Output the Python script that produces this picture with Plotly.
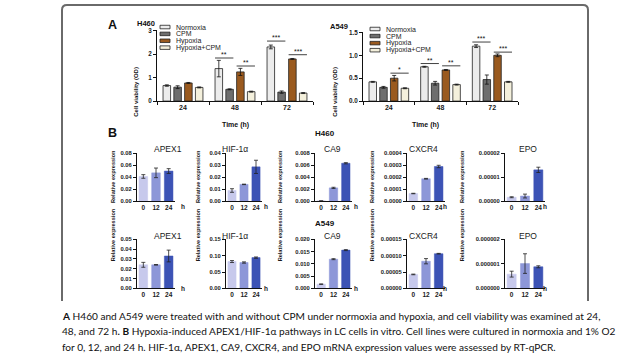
import plotly.graph_objects as go

W, H = 638, 359


def fx(x):
    return x / W


def fy(y):
    return 1 - y / H


# ---------------- Panel A data ----------------
time_points = ["24", "48", "72"]
conditions = ["Normoxia", "CPM", "Hypoxia", "Hypoxia+CPM"]

h460_normoxia = [0.66, 1.38, 2.30]
h460_normoxia_err = [0.03, 0.35, 0.08]
h460_cpm = [0.59, 0.50, 0.38]
h460_cpm_err = [0.06, 0.02, 0.05]
h460_hypoxia = [0.77, 1.24, 1.79]
h460_hypoxia_err = [0.02, 0.15, 0.02]
h460_hypoxia_cpm = [0.58, 0.40, 0.34]
h460_hypoxia_cpm_err = [0.02, 0.02, 0.02]

a549_normoxia = [0.42, 0.75, 1.20]
a549_normoxia_err = [0.01, 0.01, 0.03]
a549_cpm = [0.30, 0.39, 0.47]
a549_cpm_err = [0.02, 0.04, 0.10]
a549_hypoxia = [0.50, 0.68, 1.00]
a549_hypoxia_err = [0.06, 0.01, 0.03]
a549_hypoxia_cpm = [0.28, 0.36, 0.42]
a549_hypoxia_cpm_err = [0.01, 0.01, 0.01]

# significance brackets: time index, pair (0 = Normoxia/CPM, 1 = Hypoxia/Hypoxia+CPM), level, label
h460_sig_time = [1, 1, 2, 2]
h460_sig_pair = [0, 1, 0, 1]
h460_sig_level = [1.83, 1.49, 2.55, 1.97]
h460_sig_label = ["**", "**", "***", "***"]
a549_sig_time = [0, 1, 1, 2, 2]
a549_sig_pair = [1, 0, 1, 0, 1]
a549_sig_level = [0.61, 0.82, 0.77, 1.29, 1.07]
a549_sig_label = ["*", "**", "**", "***", "***"]

# ---------------- Panel B data ----------------
hours = ["0", "12", "24"]
genes = ["APEX1", "HIF-1α", "CA9", "CXCR4", "EPO"]

h460_apex1 = [0.041, 0.047, 0.050]
h460_apex1_err = [0.003, 0.008, 0.004]
h460_hif1a = [0.0088, 0.0139, 0.0285]
h460_hif1a_err = [0.0015, 0.0002, 0.0055]
h460_ca9 = [0.00003, 0.0022, 0.0063]
h460_ca9_err = [0.0, 0.0001, 0.0001]
h460_cxcr4 = [0.000063, 0.000186, 0.000288]
h460_cxcr4_err = [0.000002, 0.000003, 0.00001]
h460_epo = [0.0000016, 0.0000021, 0.000013]
h460_epo_err = [0.0000002, 0.0000008, 0.0000011]

a549_apex1 = [0.024, 0.024, 0.033]
a549_apex1_err = [0.0025, 0.0003, 0.006]
a549_hif1a = [0.082, 0.079, 0.094]
a549_hif1a_err = [0.003, 0.002, 0.002]
a549_ca9 = [0.0017, 0.0119, 0.0156]
a549_ca9_err = [0.0001, 0.0002, 0.0002]
a549_cxcr4 = [0.0000426, 0.000083, 0.000106]
a549_cxcr4_err = [0.000001, 0.000008, 0.000001]
a549_epo = [0.00000058, 0.00000101, 0.00000088]
a549_epo_err = [0.00000012, 0.0000004, 0.00000004]

h460_stars = [["", "", ""], ["", "", "**"], ["", "***", "***"], ["", "***", "***"], ["", "", "***"]]
a549_stars = [["", "", ""], ["", "", "**"], ["", "***", "***"], ["", "***", "***"], ["", "", ""]]

# y-axis tick settings (range max, dtick, format)
h460_ymax = [0.08, 0.04, 0.008, 0.0004, 0.00002]
h460_dtick = [0.02, 0.01, 0.002, 0.0001, 0.00001]
h460_fmt = [".2f", ".2f", ".3f", ".4f", ".5f"]
a549_ymax = [0.05, 0.15, 0.020, 0.00015, 0.000002]
a549_dtick = [0.01, 0.05, 0.005, 0.00005, 0.000001]
a549_fmt = [".2f", ".2f", ".3f", ".5f", ".6f"]

# ---------------- styling ----------------
cond_colors = ["#ececec", "#6e6e6e", "#9a5a1f", "#f4f0dc"]
hour_colors = ["#c7c9ec", "#8d97d8", "#3c53b5"]
FONT = "Liberation Sans"
BARGAP = 0.17
BARGROUPGAP = 0.3

fig = go.Figure()
annotations = []
shapes = []
layout = {}


def axis_common():
    return dict(showgrid=False, zeroline=False, showline=True, linecolor="#111",
                linewidth=1, fixedrange=True, ticklabeloverflow="allow",
                tickcolor="#111")


def tf(size):
    return dict(family=FONT, size=size, color="#1a1a1a", weight="bold")


# ---------- Panel A ----------
panelA = [
    ("x", "y", [157, 313], [27, 99], 3, 1, "d",
     [h460_normoxia, h460_cpm, h460_hypoxia, h460_hypoxia_cpm],
     [h460_normoxia_err, h460_cpm_err, h460_hypoxia_err, h460_hypoxia_cpm_err],
     (h460_sig_time, h460_sig_pair, h460_sig_level, h460_sig_label)),
    ("x2", "y2", [363, 518], [29, 99], 1.5, 0.5, ".1f",
     [a549_normoxia, a549_cpm, a549_hypoxia, a549_hypoxia_cpm],
     [a549_normoxia_err, a549_cpm_err, a549_hypoxia_err, a549_hypoxia_cpm_err],
     (a549_sig_time, a549_sig_pair, a549_sig_level, a549_sig_label)),
]

for xa, ya, xd, yd, ymax, dt, fmt, series, errs, sig in panelA:
    for k in range(4):
        fig.add_trace(go.Bar(
            x=time_points, y=series[k], name=conditions[k],
            marker=dict(color=cond_colors[k], line=dict(color="#222", width=0.8)),
            error_y=dict(type="data", array=errs[k], color="#111", thickness=0.8, width=2),
            xaxis=xa, yaxis=ya, showlegend=False))
    xname = "xaxis" + xa[1:]
    yname = "yaxis" + ya[1:]
    layout[xname] = dict(axis_common(), domain=[fx(xd[0]), fx(xd[1])], anchor=ya,
                         ticks="outside", tickson="boundaries", ticklen=3,
                         tickfont=tf(7), range=[-0.5, 2.5], type="category")
    layout[yname] = dict(axis_common(), domain=[fy(yd[1]), fy(yd[0])], anchor=xa,
                         range=[0, ymax], dtick=dt, tickformat=fmt, ticks="outside",
                         ticklen=3, tickfont=tf(6.3))
    slot = (1 - BARGAP) / 4
    half = slot * (1 - BARGROUPGAP) / 2
    for t, p, lev, lab in zip(*sig):
        left = t + (-1.5 + 2 * p) * slot - half
        right = t + (-0.5 + 2 * p) * slot + half
        shapes.append(dict(type="line", xref=xa, yref=ya, x0=left, x1=right,
                           y0=lev, y1=lev, line=dict(color="#111", width=0.8)))
        annotations.append(dict(xref=xa, yref=ya, x=(left + right) / 2, y=lev,
                                text=lab, showarrow=False, yanchor="bottom", yshift=-2,
                                font=dict(family=FONT, size=7, color="#111")))

# manual legends for panel A
for lx, ly0, step in [(160, 23.5, 7.0), (370, 25.5, 7.2)]:
    for k in range(4):
        yy = ly0 + k * step
        shapes.append(dict(type="rect", xref="paper", yref="paper",
                           x0=fx(lx), x1=fx(lx + 10), y0=fy(yy + 1.8), y1=fy(yy - 1.8),
                           fillcolor=cond_colors[k], line=dict(color="#222", width=0.8)))
        annotations.append(dict(xref="paper", yref="paper", x=fx(lx + 15), y=fy(yy),
                                text=conditions[k], showarrow=False, xanchor="left",
                                yanchor="middle", borderpad=0,
                                font=dict(family=FONT, size=7, color="#222")))

# panel A text
for txt, x, y in [("Cell viability (OD)", 131, 62), ("Cell viability (OD)", 335, 62)]:
    annotations.append(dict(xref="paper", yref="paper", x=fx(x), y=fy(y), text=txt,
                            textangle=-90, showarrow=False,
                            font=dict(family=FONT, size=6, color="#111", weight="bold")))
for x in [235, 441]:
    annotations.append(dict(xref="paper", yref="paper", x=fx(x), y=fy(117),
                            text="<b>Time (h)</b>", showarrow=False,
                            font=dict(family=FONT, size=7, color="#111")))

# ---------- Panel B ----------
b_x = [[137, 175], [226, 262], [315, 352], [407, 445], [505, 545]]
b_ylabel_x = [108, 193, 280, 372, 467]
b_title_x = [152, 235, 332, 423, 539]
rows = [
    ([152, 201], [h460_apex1, h460_hif1a, h460_ca9, h460_cxcr4, h460_epo],
     [h460_apex1_err, h460_hif1a_err, h460_ca9_err, h460_cxcr4_err, h460_epo_err],
     h460_stars, h460_ymax, h460_dtick, h460_fmt, 148),
    ([240, 290], [a549_apex1, a549_hif1a, a549_ca9, a549_cxcr4, a549_epo],
     [a549_apex1_err, a549_hif1a_err, a549_ca9_err, a549_cxcr4_err, a549_epo_err],
     a549_stars, a549_ymax, a549_dtick, a549_fmt, 237),
]

n = 3
for yd, vals, errs, stars, ymaxs, dts, fmts, title_y in rows:
    for g in range(5):
        xa, ya = "x%d" % n, "y%d" % n
        fig.add_trace(go.Bar(
            x=hours, y=vals[g], width=0.68,
            marker=dict(color=hour_colors, line=dict(color=hour_colors, width=0.5)),
            error_y=dict(type="data", array=errs[g], color="#222", thickness=0.8, width=2),
            xaxis=xa, yaxis=ya, showlegend=False, name=genes[g]))
        layout["xaxis%d" % n] = dict(axis_common(), domain=[fx(b_x[g][0]), fx(b_x[g][1])],
                                     anchor=ya, ticks="", type="category",
                                     range=[-0.5, 2.5], tickfont=tf(6.5))
        layout["yaxis%d" % n] = dict(axis_common(), domain=[fy(yd[1]), fy(yd[0])],
                                     anchor=xa, range=[0, ymaxs[g]], dtick=dts[g],
                                     tickformat=fmts[g], ticks="outside", ticklen=3,
                                     tickfont=tf(5.8))
        for i in range(3):
            if stars[g][i]:
                annotations.append(dict(xref=xa, yref=ya, x=hours[i],
                                        y=vals[g][i] + errs[g][i], text=stars[g][i],
                                        showarrow=False, yanchor="bottom", yshift=-1,
                                        font=dict(family=FONT, size=6, color="#111")))
        annotations.append(dict(xref="paper", yref="paper", x=fx(b_x[g][1] + 4),
                                y=fy(yd[1] + 6), text="h", showarrow=False,
                                font=dict(family=FONT, size=6.5, color="#1a1a1a",
                                          weight="bold")))
        annotations.append(dict(xref="paper", yref="paper", x=fx(b_title_x[g]),
                                y=fy(title_y), text=genes[g], showarrow=False,
                                font=dict(family=FONT, size=8.5, color="#1a1a1a")))
        annotations.append(dict(xref="paper", yref="paper", x=fx(b_ylabel_x[g]),
                                y=fy((yd[0] + yd[1]) / 2), text="Relative expression",
                                textangle=-90, showarrow=False,
                                font=dict(family=FONT, size=5.6, color="#1a1a1a",
                                          weight="bold")))
        n += 1

# panel letters and cell-line headings
for txt, x, y, s in [("<b>A</b>", 106, 12, 12.5), ("<b>H460</b>", 135, 13, 7.5),
                     ("<b>A549</b>", 339, 16, 7.5), ("<b>B</b>", 106, 132, 12.5),
                     ("<b>H460</b>", 325, 132, 8), ("<b>A549</b>", 325, 224, 8)]:
    annotations.append(dict(xref="paper", yref="paper", x=fx(x), y=fy(y), text=txt,
                            showarrow=False, font=dict(family=FONT, size=s, color="#111")))

# frame
r = 5
path = "M {a},{b} L {a},{c} Q {a},{d} {e},{d} L {f},{d} Q {g},{d} {g},{c} L {g},{b}".format(
    a=fx(62), b=fy(303), c=fy(1 + r), d=fy(1), e=fx(62 + r), f=fx(588 - r), g=fx(588))
shapes.append(dict(type="path", xref="paper", yref="paper", path=path,
                   line=dict(color="#6a6a6a", width=2)))

# caption
caption = [
    "<b>A</b> H460 and A549 were treated with and without CPM under normoxia and hypoxia, and cell viability was examined at 24,",
    "48, and 72 h<b>.</b> <b>B</b> Hypoxia-induced APEX1/HIF-1α pathways in LC cells in vitro. Cell lines were cultured in normoxia and 1% O2",
    "for 0, 12, and 24 h. HIF-1α, APEX1, CA9, CXCR4, and EPO mRNA expression values were assessed by RT-qPCR.",
]
for i, line in enumerate(caption):
    annotations.append(dict(xref="paper", yref="paper", x=fx(61), y=fy(318 + 16 * i),
                            text=line, showarrow=False, xanchor="left", yanchor="middle",
                            borderpad=0,
                            font=dict(family="Lato", size=10.1, color="#111")))

fig.update_layout(**layout)
fig.update_layout(
    width=W, height=H, margin=dict(l=0, r=0, t=0, b=0, pad=0),
    paper_bgcolor="white", plot_bgcolor="white",
    barmode="group", bargap=BARGAP, bargroupgap=BARGROUPGAP,
    annotations=annotations, shapes=shapes, showlegend=False,
)

fig.write_html("out.html", config={"displayModeBar": False},
               post_script="document.body.style.margin='0px';document.body.style.overflow='hidden';")
